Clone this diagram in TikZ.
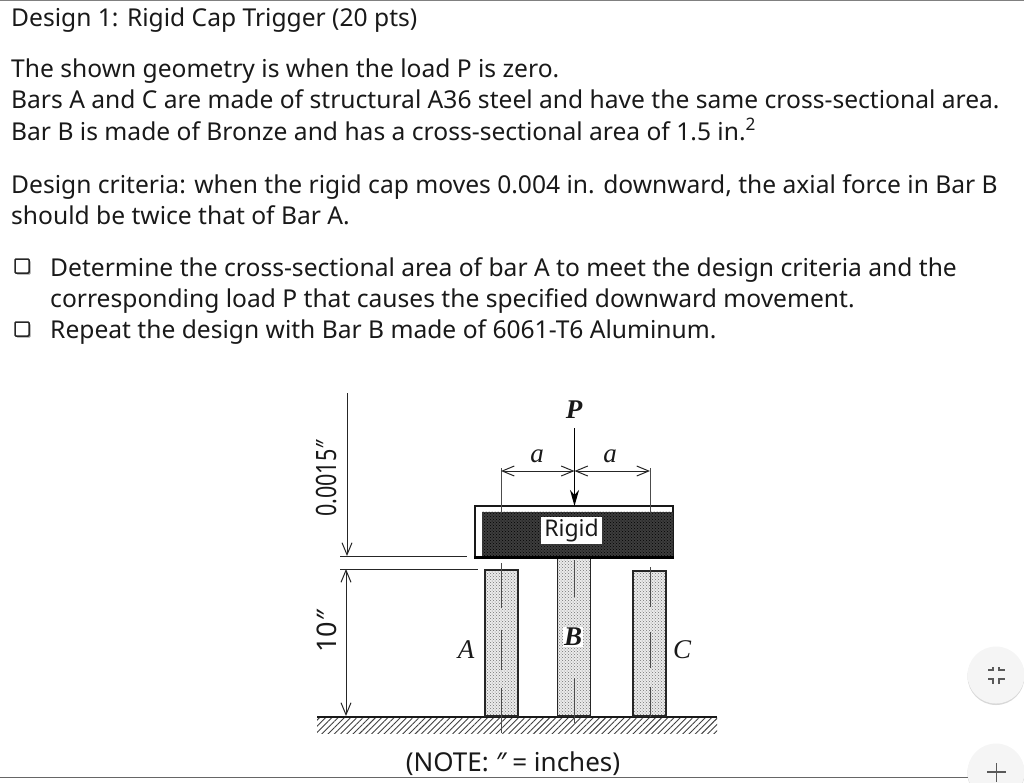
\documentclass[tikz,border=0pt]{standalone}
\usepackage{fontspec}
\usepackage{graphicx}
\setmainfont{Noto Sans}
\newfontfamily\figfont{Liberation Serif}
\usetikzlibrary{patterns,patterns.meta,arrows.meta,shadows}
\begin{document}
\begin{tikzpicture}
    \def\dx{1pt}
    \def\dy{-1pt}

    \tikzstyle{line}=[anchor=base west,inner sep=0pt,text=black!90,font=\fontsize{24.6}{28}\selectfont]
    \tikzstyle{tick}=[draw=black!85,fill=white,line width=1.5pt,minimum size=14pt,inner sep=0pt,rounded corners=1pt,drop shadow={shadow xshift=1.6pt,shadow yshift=-1.6pt,fill=black!80}]
    \tikzstyle{bar}=[draw=black!85,line width=1.6pt,preaction={fill=black!8},pattern=crosshatch dots,pattern color=black!55,inner sep=0pt,minimum width=33pt]
    \tikzstyle{letter}=[inner sep=0pt,text=black!90,font=\figfont\itshape\fontsize{27}{27}\selectfont]
    \tikzstyle{sans}=[inner sep=0pt,text=black!90,font=\fontsize{23}{28}\selectfont]
    \tikzstyle{fab}=[circle,fill=black!4,minimum size=57pt,inner sep=0pt,drop shadow={shadow xshift=0pt,shadow yshift=-1.5pt,fill=black!30}]

    \useasboundingbox (0*\dx,0*\dy) rectangle (1024*\dx,782*\dy);

    \node[line]  (title) at (11*\dx,26*\dy) {Design 1: Rigid Cap Trigger (20 pts)};
    \node[line]  (l1) at (11*\dx,77*\dy) {The shown geometry is when the load P is zero.};
    \node[line]  (l2) at (11*\dx,108*\dy) {Bars A and C are made of structural A36 steel and have the same cross-sectional area.};
    \node[line]  (l3) at (11*\dx,140*\dy) {Bar B is made of Bronze and has a cross-sectional area of 1.5 in.\textsuperscript{2}};
    \node[line]  (l4) at (11*\dx,193*\dy) {Design criteria: when the rigid cap moves 0.004 in. downward, the axial force in Bar B};
    \node[line]  (l5) at (11*\dx,224*\dy) {should be twice that of Bar A.};
    \node[tick]  (t1) at (22*\dx,266*\dy) {};
    \node[line]  (l6) at (50*\dx,276*\dy) {Determine the cross-sectional area of bar A to meet the design criteria and the};
    \node[line]  (l7) at (50*\dx,307*\dy) {corresponding load P that causes the specified downward movement.};
    \node[tick]  (t2) at (22*\dx,329*\dy) {};
    \node[line]  (l8) at (50*\dx,338*\dy) {Repeat the design with Bar B made of 6061-T6 Aluminum.};

    % ground
    \fill[pattern={Lines[angle=45,distance=4.4pt,line width=.9pt]},pattern color=black!75] (317*\dx,717*\dy) rectangle (717*\dx,733*\dy);
    \node[inner sep=0pt] (ground) at (517*\dx,717*\dy) {};
    \draw[black!90,line width=1.5pt] (317*\dx,717*\dy) -- (717*\dx,717*\dy);

    % bars and cap
    \node[bar,minimum height=146pt]  (barA) at (501.5*\dx,643*\dy) {};
    \node[bar,minimum height=158pt]  (barB) at (574*\dx,637*\dy) {};
    \node[bar,minimum height=145pt]  (barC) at (649.5*\dx,643.5*\dy) {};
    \node[draw=black!90,line width=1.2pt,minimum width=198pt,minimum height=51pt,inner sep=0pt] (cap) at (574*\dx,531.5*\dy) {};
    \node[preaction={fill=black!76},pattern=crosshatch dots,pattern color=black,minimum width=191pt,minimum height=45pt,inner sep=0pt] (capfill) at (577.5*\dx,534*\dy) {};
    \draw[black,line width=2.4pt] (cap.south west) -- (cap.south east);
    \node[sans,fill=white,minimum width=61pt,minimum height=27pt] (rigid) at (571.5*\dx,530.5*\dy) {Rigid};

    % centre lines
    \tikzstyle{axis}=[draw=black!70,line width=.7pt]
    \draw [axis] (501*\dx,468*\dy) -- (501*\dx,513*\dy);
    \draw [axis] (650*\dx,468*\dy) -- (650*\dx,513*\dy);
    \draw [axis] (501*\dx,563*\dy) -- (501*\dx,608*\dy);
    \draw [axis] (501*\dx,630*\dy) -- (501*\dx,670*\dy);
    \draw [axis] (501*\dx,688*\dy) -- (501*\dx,733*\dy);
    \draw [axis] (574*\dx,560*\dy) -- (574*\dx,597*\dy);
    \draw [axis] (574*\dx,678*\dy) -- (574*\dx,723*\dy);
    \draw [axis] (650*\dx,567*\dy) -- (650*\dx,607*\dy);
    \draw [axis] (650*\dx,632*\dy) -- (650*\dx,668*\dy);
    \draw [axis] (650*\dx,687*\dy) -- (650*\dx,717*\dy);

    \node[letter]  (P) at (574*\dx,410*\dy) {\bfseries P};
    \node[letter]  (a1) at (537*\dx,456*\dy) {a};
    \node[letter]  (a2) at (610*\dx,456*\dy) {a};
    \node[letter]  (A) at (466*\dx,650*\dy) {A};
    \node[letter,fill=white,inner sep=1pt]  (B) at (573*\dx,637*\dy) {\bfseries B};
    \node[letter]  (C) at (682*\dx,650*\dy) {C};
    \node[sans,rotate=90,font=\fontsize{28}{28}\selectfont]  (d1) at (327*\dx,479*\dy) {\scalebox{.77}[1]{0.0015{\itshape\char"2033}}};
    \node[sans,rotate=90,font=\fontsize{27}{28}\selectfont]  (d2) at (327*\dx,632*\dy) {10{\itshape\char"2033}};
    \node[sans,font=\fontsize{26}{28}\selectfont]  (note) at (513*\dx,764*\dy) {(NOTE: {\itshape\char"2033} = inches)};

    \coordinate (top) at (347*\dx,393*\dy);
    \coordinate (capline) at (347*\dx,556*\dy);
    \coordinate (capl) at (340*\dx,556*\dy);
    \coordinate (capr) at (467*\dx,556*\dy);
    \coordinate (barl) at (340*\dx,569*\dy);
    \coordinate (barr) at (478*\dx,569*\dy);
    \coordinate (barline) at (346*\dx,569*\dy);
    \coordinate (foot) at (346*\dx,716*\dy);
    \coordinate (tipP) at (574.5*\dx,428*\dy);
    \coordinate (capP) at (574.5*\dx,506*\dy);
    \coordinate (leftA) at (501*\dx,471*\dy);
    \coordinate (midP) at (574.5*\dx,471*\dy);
    \coordinate (rightC) at (650*\dx,471*\dy);

    \tikzstyle{fwd} = [draw=black!85, line width=1pt]
    \tikzstyle{dim} = [fwd,-{Straight Barb[length=12pt,width=10pt]}]

    \draw [fwd] (capl) -- (capr);
    \draw [fwd] (barl) -- (barr);
    \draw [dim] (top) -- (capline);
    \draw [dim,{Straight Barb[length=12pt,width=10pt]}-{Straight Barb[length=12pt,width=10pt]}] (barline) -- (foot);
    \draw [dim,{Straight Barb[length=12pt,width=10pt]}-{Straight Barb[length=12pt,width=10pt]}] (leftA) -- (midP);
    \draw [dim,{Straight Barb[length=12pt,width=10pt]}-{Straight Barb[length=12pt,width=10pt]}] (rightC) -- (midP);
    \draw [draw=black,line width=1.8pt,-{Stealth[length=16pt,width=9pt,inset=5pt]}] (tipP) -- (capP);

    % page edges
    \coordinate (tl) at (0*\dx,0.5*\dy);
    \coordinate (tr) at (1024*\dx,0.5*\dy);
    \coordinate (bl) at (0*\dx,777*\dy);
    \coordinate (br) at (970*\dx,777*\dy);
    \draw [draw=black!50,line width=1pt] (tl) -- (tr);
    \draw [draw=black!60,line width=1pt] (bl) -- (br);

    % zoom buttons
    \node[fab]  (fit) at (996*\dx,675*\dy) {};
    \node[fab]  (plus) at (996*\dx,772*\dy) {};
    \tikzstyle{icon}=[draw=black!65,line width=1.8pt]
    \draw [icon] (988*\dx,670*\dy) -- (993*\dx,670*\dy) -- (993*\dx,667*\dy);
    \draw [icon] (999*\dx,667*\dy) -- (999*\dx,670*\dy) -- (1005*\dx,670*\dy);
    \draw [icon] (988*\dx,679*\dy) -- (993*\dx,679*\dy) -- (993*\dx,684*\dy);
    \draw [icon] (999*\dx,684*\dy) -- (999*\dx,679*\dy) -- (1005*\dx,679*\dy);
    \draw [icon] (987*\dx,772*\dy) -- (1006*\dx,772*\dy);
    \draw [icon] (996.5*\dx,763*\dy) -- (996.5*\dx,782*\dy);

\end{tikzpicture}
\end{document}
